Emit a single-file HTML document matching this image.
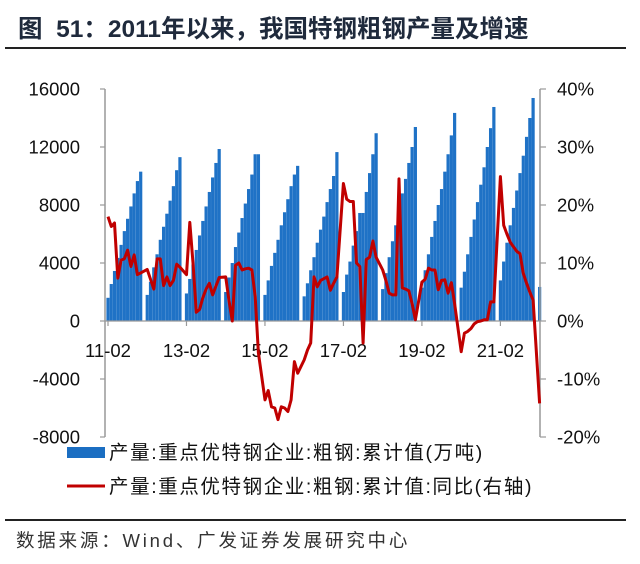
<!DOCTYPE html>
<html><head><meta charset="utf-8">
<style>
body{margin:0;background:#fff;width:640px;height:564px;overflow:hidden;font-family:"Liberation Sans","Noto Sans CJK SC",sans-serif;}
svg{display:block}
</style></head>
<body>
<svg id="chart" width="640" height="564" xmlns="http://www.w3.org/2000/svg">
<text x="18" y="37" font-size="24.5" font-weight="bold" fill="#1f2a3c" font-family="Liberation Sans, Noto Sans CJK SC, sans-serif">图&#160;&#160;51：2011年以来，我国特钢粗钢产量及增速</text>
<line x1="5" y1="48" x2="626" y2="48" stroke="#222" stroke-width="2"/>
<g id="plot"></g>
<g>
<rect x="67" y="447" width="38" height="11" fill="#1b6ec2"/>
<text x="109" y="459" font-size="19.5" letter-spacing="1.6" fill="#111">产量:重点优特钢企业:粗钢:累计值(万吨)</text>
<line x1="67" y1="486" x2="105" y2="486" stroke="#c00000" stroke-width="3"/>
<text x="109" y="493" font-size="19.5" letter-spacing="1.6" fill="#111">产量:重点优特钢企业:粗钢:累计值:同比(右轴)</text>
</g>
<line x1="5" y1="520" x2="626" y2="520" stroke="#222" stroke-width="2"/>
<text x="16" y="547" font-size="18.5" letter-spacing="2.8" fill="#333">数据来源：Wind、广发证券发展研究中心</text>
</svg>
<script>
// Data: cumulative production (10k t), Feb..Dec per year
const years = [2011,2012,2013,2014,2015,2016,2017,2018,2019,2020,2021,2022];
const prod2011 = [1600,2550,3450,4350,5250,6200,7050,7900,8800,9650,10300];
const prod2012 = [1800,2700,3700,4600,5600,6500,7400,8300,9300,10400,11300];
const prod2013 = [1900,2900,3900,4900,5900,6900,7900,8900,9900,10900,11860];
const prod2014 = [2000,3000,4000,5100,6100,7100,8100,9100,10100,11500,11500];
const prod2015 = [1800,2800,3800,4700,5600,6600,7500,8400,9300,10100,10700];
const prod2016 = [1700,2600,3500,4400,5400,6300,7200,8200,9100,10000,11650];
const prod2017 = [2000,3200,4100,5200,6200,7450,7450,8900,10200,11500,12950];
const prod2018 = [2200,3300,4400,5500,6600,7700,8800,9800,10900,12000,13380];
const prod2019 = [2300,3500,4600,5800,6900,8000,9100,10300,11500,12800,14350];
const prod2020 = [2300,3400,4600,5800,7000,8200,9400,10600,12000,13300,14760];
const prod2021 = [2800,4100,5400,6600,7800,9000,10200,11400,12700,14000,15380];
const prod2022 = [2350];
// YoY growth (%), Feb..Dec per year
const yoy2011 = [18,16.3,16.9,7.4,10.5,10.7,12.2,9.4,11.4,8,8.3];
const yoy2012 = [8.9,7.2,5.5,10.7,10.7,6.1,7.6,6.1,7,9.8,9.3];
const yoy2013 = [8,17,10,1.5,2,4,5.5,6.5,4.5,6,7.5];
const yoy2014 = [7.6,3.5,0,9.6,10,8.8,9,9.1,8.8,4.2,-5.5];
const yoy2015 = [-13.6,-12,-14.8,-15,-17,-14.8,-15,-15.6,-13.6,-7,-9];
const yoy2016 = [-6.7,-5,-3.8,7.6,5.9,7,7.3,7.6,5.3,6.5,7.6];
const yoy2017 = [23.7,21,20.6,20.6,10,9.4,-3.8,10.6,11,13.8,11];
const yoy2018 = [8.8,7,4.8,4.5,4.5,24.5,5.7,5.5,5.2,3,0.2];
const yoy2019 = [6.7,7.2,9.1,8.8,8.8,5.4,7,7.1,4.8,6.6,3];
const yoy2020 = [-5.3,-2.1,-1.8,-1.3,-0.5,-0.1,0,0.2,0.2,3.3,3.3];
const yoy2021 = [24.9,16.5,15,13.6,12.8,12,11.6,8.2,6.5,5,3.6];
const yoy2022 = [-14.2];
const leftTicks = [16000,12000,8000,4000,0,-4000,-8000];
const rightTicks = ["40%","30%","20%","10%","0%","-10%","-20%"];
const rightTickVals = [40,30,20,10,0,-10,-20];
const xTickLabels = ["11-02","13-02","15-02","17-02","19-02","21-02"];

const prodAll = [prod2011,prod2012,prod2013,prod2014,prod2015,prod2016,prod2017,prod2018,prod2019,prod2020,prod2021,prod2022];
const yoyAll = [yoy2011,yoy2012,yoy2013,yoy2014,yoy2015,yoy2016,yoy2017,yoy2018,yoy2019,yoy2020,yoy2021,yoy2022];

const NS = "http://www.w3.org/2000/svg";
const plot = document.getElementById('plot');
const X0 = 108, STEP = 3.27, XL = 105, XR = 540;
const yL = v => 321 - v * 58 / 4000;
const yR = v => 321 - v * 5.8;
const xM = (yi, mi) => X0 + (yi * 12 + mi) * STEP; // mi: 0 = Feb
function mk(tag, attrs){const e=document.createElementNS(NS,tag);for(const k in attrs)e.setAttribute(k,attrs[k]);plot.appendChild(e);return e;}

// bars
prodAll.forEach((arr, yi) => arr.forEach((v, mi) => {
  const x = xM(yi, mi);
  const r = mk('rect', {x: x - 1.6, y: Math.min(yL(v), yL(0)), width: 3.2, height: Math.abs(yL(0) - yL(v)), fill: '#1f72c6'});
  
  
}));

// axes
const axL = mk('line', {x1: XL, y1: yL(16000), x2: XL, y2: yL(-8000), stroke: '#999', 'stroke-width': 1.5});


const axR = mk('line', {x1: XR, y1: yR(40), x2: XR, y2: yR(-20), stroke: '#999', 'stroke-width': 1.5});


const ax0 = mk('line', {x1: XL, y1: yL(0), x2: XR, y2: yL(0), stroke: '#999', 'stroke-width': 1.2});



leftTicks.forEach(v => {
  mk('line', {x1: XL - 5, y1: yL(v), x2: XL, y2: yL(v), stroke: '#999', 'stroke-width': 1.2});
  const t = mk('text', {x: 80, y: yL(v) + 6.5, 'font-size': 18.5, 'text-anchor': 'end', fill: '#111'});
  t.textContent = v;
  
  
});
rightTickVals.forEach((v, i) => {
  mk('line', {x1: XR, y1: yR(v), x2: XR + 6, y2: yR(v), stroke: '#999', 'stroke-width': 1.2});
  const t = mk('text', {x: 557, y: yR(v) + 6.5, 'font-size': 18.5, fill: '#111'});
  t.textContent = rightTicks[i];
  
  
});
xTickLabels.forEach((lab, i) => {
  const x = xM(i * 2, 0);
  mk('line', {x1: x, y1: yL(0), x2: x, y2: yL(0) + 5, stroke: '#999', 'stroke-width': 1.2});
  const t = mk('text', {x: x, y: 357, 'font-size': 18.5, 'text-anchor': 'middle', fill: '#111'});
  t.textContent = lab;
  
  
});

// line
let d = '';
yoyAll.forEach((arr, yi) => arr.forEach((v, mi) => {
  d += (d ? 'L' : 'M') + xM(yi, mi).toFixed(1) + ',' + yR(v).toFixed(1);
}));
const ln = mk('path', {d: d, fill: 'none', stroke: '#c00000', 'stroke-width': 3, 'stroke-linejoin': 'round'});


</script>
</body></html>
